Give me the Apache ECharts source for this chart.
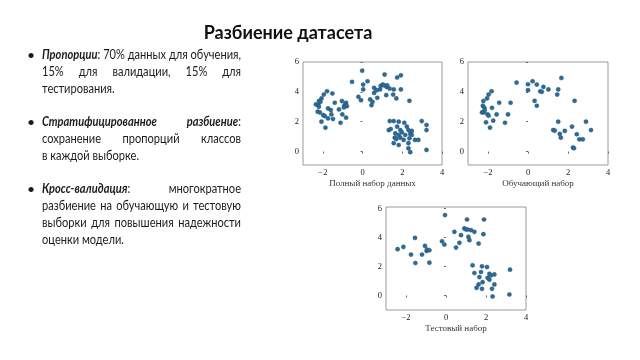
<!DOCTYPE html>
<html><head><meta charset="utf-8">
<script src="https://cdn.jsdelivr.net/npm/echarts@6/dist/echarts.min.js"></script>
<style>html,body{margin:0;padding:0;background:#fff}#c{width:640px;height:360px}</style>
</head><body><div id="c"></div>
<script>
// ---------- data ----------
const xTicks = [-2, 0, 2, 4];
const yTicks = [0, 2, 4, 6];
const plotNames = ['Полный набор данных', 'Обучающий набор', 'Тестовый набор'];
const titleText = 'Разбиение датасета';

const fullData = [
  [-1.79,4.04],[-1.95,3.82],[-1.52,3.89],[-2.07,3.56],[-2.2,3.38],[-2.35,3.16],[-2.23,3.11],[-2.12,3.33],
  [-1.40,3.27],[-1.04,3.38],[-0.83,3.27],[-0.91,3.11],[-0.79,3.04],[-0.94,2.96],[-1.19,2.82],[-1.74,2.89],
  [-2.26,2.67],[-2.15,2.62],[-1.98,2.44],[-1.90,2.38],[-1.60,2.78],[-1.57,2.49],[-1.74,2.22],[-1.49,2.18],
  [-2.07,2.0],[-1.11,1.93],[-0.83,2.27],[-1.02,2.49],[-1.87,1.6],[-2.2,3.0],
  [-0.02,5.42],[-0.53,4.67],[0.25,4.71],[0.03,4.49],[0.03,4.16],[-0.21,3.67],[-0.08,3.44],[0.38,3.49],
  [0.50,3.33],[0.45,3.11],[0.58,4.27],[0.71,4.11],[0.88,4.16],[0.91,4.4],[1.02,4.49],[1.11,5.16],
  [1.21,4.33],[1.24,4.44],[1.36,4.22],[1.57,4.16],[1.74,4.96],[1.93,5.11],[1.93,4.16],[1.19,3.78],
  [0.74,3.6],[1.70,3.56],[1.54,3.82],[2.36,3.4],[0.58,3.93],[1.07,4.44],
  [1.37,2.04],[1.57,2.04],[1.82,2.0],[2.1,1.93],[2.98,2.04],[3.22,1.78],[3.22,1.44],[1.32,1.44],
  [1.42,1.51],[1.74,1.67],[1.90,1.44],[2.23,1.67],[2.31,1.44],[2.48,1.38],[1.65,1.22],[1.82,1.11],
  [1.98,1.29],[2.15,1.11],[2.4,1.18],[1.62,0.93],[1.70,0.84],[1.9,0.93],[2.07,0.78],[2.36,0.89],
  [2.64,0.78],[2.81,0.78],[1.57,0.56],[1.82,0.44],[2.31,0.56],[2.31,0.22],[2.4,-0.04],[3.22,0.11],[2.48,1.11]
];
const trainData = [
  [-1.82,4.04],[-1.97,3.82],[-2.05,3.56],[-2.23,3.38],[-2.26,3.07],[-2.18,2.93],[-1.8,2.93],[-1.44,3.27],
  [-0.87,3.27],[-2.30,2.62],[-2.21,2.62],[-2.02,2.49],[-1.97,2.4],[-1.57,2.49],[-1.0,2.49],[-1.74,2.07],
  [-2.1,1.96],[-1.15,1.93],[-1.9,1.6],[-2.16,2.78],
  [-0.57,4.62],[0.23,4.71],[0.0,4.51],[0.44,4.49],[0.0,4.11],[0.61,4.04],[0.69,4.0],[0.77,4.33],
  [1.02,4.16],[1.67,4.93],[1.51,4.16],[1.46,3.82],[0.33,3.4],[0.44,3.07],[2.33,3.4],
  [1.51,2.0],[2.9,2.0],[2.2,1.67],[3.15,1.44],[1.26,1.44],[1.34,1.4],[1.59,1.18],[1.84,1.38],
  [2.44,1.16],[1.64,0.93],[2.57,0.82],[2.74,0.82],[2.25,0.27],[2.3,0.22]
];
const testData = [
  [-2.42,3.19],[-2.13,3.35],[-1.55,3.97],[-1.75,2.82],[-1.53,2.24],[-1.2,2.82],[-1.05,3.42],[-0.97,3.07],
  [-0.95,3.16],[-0.83,3.12],[-0.83,2.26],[-0.2,3.74],[-0.08,3.51],
  [-0.05,5.54],[1.05,5.24],[1.9,5.24],[0.42,4.39],[0.92,4.62],[1.0,4.55],[1.08,4.55],[1.25,4.5],
  [1.42,4.39],[0.75,4.16],[1.12,4.04],[1.87,4.23],[1.17,3.81],[0.67,3.63],[0.5,3.3],[1.63,3.58],
  [1.33,2.08],[1.8,2.01],[2.05,1.96],[1.42,1.55],[1.75,1.62],[2.17,1.5],[2.25,1.39],[2.42,1.45],
  [1.67,1.27],[2.08,1.22],[2.17,1.09],[1.83,0.92],[1.63,0.76],[2.42,0.76],[1.53,0.53],[1.8,0.46],
  [2.3,0.46],[2.33,-0.07],[3.2,1.78],[3.17,0.07]
];

// bullet paragraphs: *...* = bold italic; last line of each paragraph is not justified
const paragraph1 = ['*Пропорции*: 70% данных для обучения,', '15% для валидации, 15% для', 'тестирования.'];
const paragraph2 = ['*Стратифицированное* *разбиение*:', 'сохранение пропорций классов', 'в каждой выборке.'];
const paragraph3 = ['*Кросс-валидация*: многократное', 'разбиение на обучающую и тестовую', 'выборки для повышения надежности', 'оценки модели.'];

// ---------- layout ----------
const BODY_FONT = 'Lato';
const BODY_SIZE = 13.5;
const TEXT_LEFT = 42, TEXT_RIGHT = 241, BULLET_X = 31, LINE_H = 16.8;
const paraTops = [55, 122, 189];

const ctx = document.createElement('canvas').getContext('2d');
function fontStr(bold) { return (bold ? 'italic bold ' : '') + BODY_SIZE + 'px ' + BODY_FONT; }
function rawMeasure(t, bold) { ctx.font = fontStr(bold); return ctx.measureText(t).width; }

function parseLine(line) {
  let state = false; const words = [];
  line.split(' ').forEach(w => {
    const runs = []; let buf = '';
    for (const ch of w) {
      if (ch === '*') { if (buf) runs.push({ t: buf, b: state }); buf = ''; state = !state; }
      else buf += ch;
    }
    if (buf) runs.push({ t: buf, b: state });
    words.push(runs);
  });
  return words;
}
function naturalWidth(line) {
  const words = parseLine(line);
  const w = words.reduce((s, r) => s + r.reduce((a, x) => a + rawMeasure(x.t, x.b), 0), 0);
  return w + (words.length - 1) * rawMeasure(' ', false);
}
// horizontal compression so the Lato text has the narrow (Calibri-like) proportions of the slide
const SX = (TEXT_RIGHT - TEXT_LEFT) / naturalWidth(paragraph1[0]);
function measure(t, bold) { return rawMeasure(t, bold) * SX; }

function lineElements(line, y, justify) {
  const words = parseLine(line);
  const widths = words.map(r => r.reduce((s, x) => s + measure(x.t, x.b), 0));
  const total = widths.reduce((a, b) => a + b, 0);
  const space = measure(' ', false);
  let gap = space;
  if (justify && words.length > 1) gap = Math.max(space * 0.6, (TEXT_RIGHT - TEXT_LEFT - total) / (words.length - 1));
  const els = []; let x = TEXT_LEFT;
  words.forEach((runs, i) => {
    let rx = x;
    runs.forEach(r => {
      els.push({ type: 'text', x: rx, y: y, scaleX: SX, silent: true,
        style: { text: r.t, font: fontStr(r.b), fill: '#1b1b1b', textVerticalAlign: 'middle', textAlign: 'left' } });
      rx += measure(r.t, r.b);
    });
    x += widths[i] + gap;
  });
  return els;
}

const graphics = [];
graphics.push({ type: 'text', x: 288, y: 33, silent: true,
  style: { text: titleText, font: 'bold 18px ' + BODY_FONT, fill: '#111', textAlign: 'center', textVerticalAlign: 'middle' } });
[paragraph1, paragraph2, paragraph3].forEach((para, pi) => {
  const top = paraTops[pi];
  graphics.push({ type: 'text', x: BULLET_X, y: top, silent: true,
    style: { text: '•', font: '14px ' + BODY_FONT, fill: '#1b1b1b', textAlign: 'center', textVerticalAlign: 'middle' } });
  para.forEach((ln, li) => {
    graphics.push(...lineElements(ln, top + li * LINE_H, li < para.length - 1));
  });
});

// ---------- chart ----------
const grids = [
  { left: 303, top: 62, width: 139, height: 103 },
  { left: 468, top: 62, width: 140, height: 103 },
  { left: 386, top: 207, width: 140, height: 103 }
].map(g => Object.assign(g, { show: true, borderColor: '#9a9a9a', borderWidth: 1, backgroundColor: 'transparent' }));

const yRanges = [[-0.9, 6.0], [-0.9, 6.0], [-1.0, 6.1]];
const serif = 'Liberation Serif';
function fmt(v) { return String(v).replace('-', '\u2212'); }
const xAxes = [0, 1, 2].map(i => ({
  type: 'value', gridIndex: i, min: -3, max: 4,
  name: plotNames[i], nameLocation: 'middle', nameGap: 14,
  nameTextStyle: { fontFamily: serif, fontSize: 9, color: '#333' },
  axisLine: { show: false },
  axisTick: { show: true, customValues: xTicks, length: 2, inside: false, lineStyle: { color: '#666' } },
  axisLabel: { customValues: xTicks, margin: 3, fontFamily: serif, fontSize: 8.5, color: '#222', formatter: fmt },
  splitLine: { show: false }
}));
const yAxes = [0, 1, 2].map(i => ({
  type: 'value', gridIndex: i, min: yRanges[i][0], max: yRanges[i][1],
  axisLine: { show: false },
  axisTick: { show: true, customValues: yTicks, length: 2, lineStyle: { color: '#666' } },
  axisLabel: { customValues: yTicks, margin: 4, fontFamily: serif, fontSize: 8.5, color: '#222', formatter: fmt },
  splitLine: { show: false }
}));
const datasets = [fullData, trainData, testData];
const series = datasets.map((d, i) => ({
  type: 'scatter', xAxisIndex: i, yAxisIndex: i, data: d, symbolSize: 4.2,
  itemStyle: { color: '#2b6c98', borderColor: '#1e4d6d', borderWidth: 0.4, opacity: 1 },
  emphasis: { disabled: true }, silent: true
}));

const chart = echarts.init(document.getElementById('c'), null, { renderer: 'canvas' });
chart.setOption({
  animation: false, backgroundColor: '#ffffff',
  grid: grids, xAxis: xAxes, yAxis: yAxes, series: series, graphic: graphics
});
</script></body></html>
